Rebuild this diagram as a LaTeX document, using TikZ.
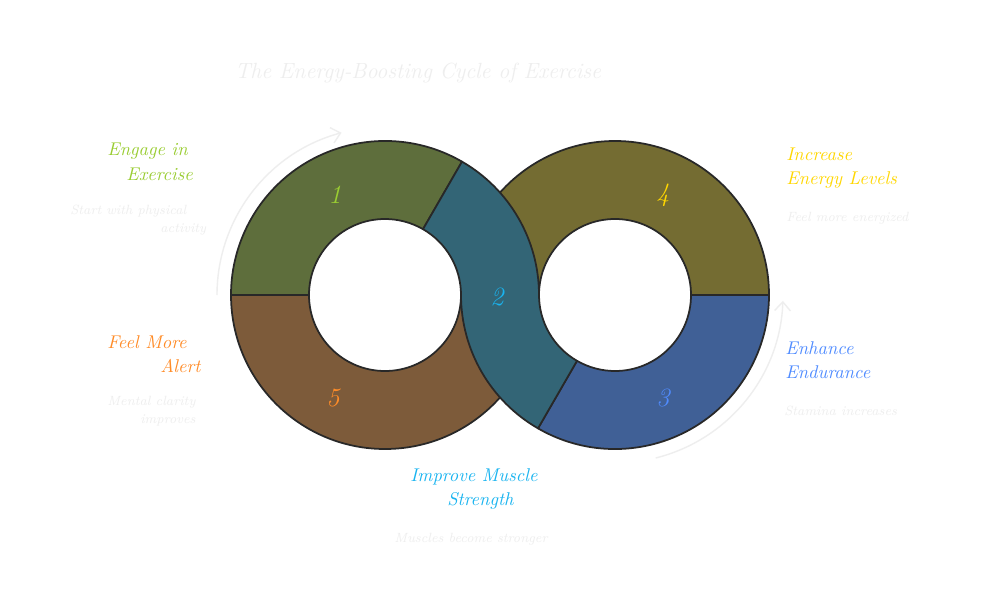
\documentclass[tikz,border=0pt]{standalone}
\usepackage{tikz}
\usetikzlibrary{arrows.meta,calc}
\definecolor{Edge}{RGB}{40, 40, 40}
\definecolor{Engage}{RGB}{94, 110, 60}
\definecolor{Muscle}{RGB}{51, 101, 118}
\definecolor{Endure}{RGB}{64, 96, 150}
\definecolor{Energy}{RGB}{116, 108, 50}
\definecolor{Alert}{RGB}{125, 91, 58}
\definecolor{EngageText}{RGB}{154, 205, 50}
\definecolor{MuscleText}{RGB}{25, 180, 240}
\definecolor{EndureText}{RGB}{80, 140, 255}
\definecolor{EnergyText}{RGB}{255, 215, 0}
\definecolor{AlertText}{RGB}{255, 140, 40}
\definecolor{Faint}{RGB}{238, 238, 238}

\begin{document}
\begin{tikzpicture}[x=0.02cm, y=0.02cm,
    segment/.style={draw=Edge, line width=1pt, line join=round},
    number/.style={font=\fontsize{15}{18}\selectfont\itshape},
    mainlabel/.style={font=\fontsize{10.5}{14}\selectfont\itshape, inner sep=0pt, align=left, anchor=west},
    sublabel/.style={font=\fontsize{7.6}{10.2}\selectfont\itshape, text=Faint, inner sep=0pt, align=left, anchor=west},
    hint/.style={draw=Faint, line width=0.8pt, -{Straight Barb[length=5pt, width=9pt]}}]
    %% Background
    \fill[white] (0,0) rectangle (1000,603);

    \coordinate (L) at (385,308);
    \coordinate (R) at (615,308);

    %% Left ring
    \filldraw[segment, fill=Engage]
    ($(L)+(60:154)$) arc[start angle=60, end angle=180, radius=154]
    -- ($(L)+(180:76)$) arc[start angle=180, end angle=60, radius=76] -- cycle;
    \filldraw[segment, fill=Alert]
    ($(L)+(180:154)$) arc[start angle=180, end angle=360, radius=154]
    -- ($(L)+(0:76)$) arc[start angle=360, end angle=180, radius=76] -- cycle;

    %% Right ring
    \filldraw[segment, fill=Energy]
    ($(R)+(0:154)$) arc[start angle=0, end angle=180, radius=154]
    -- ($(R)+(180:76)$) arc[start angle=180, end angle=0, radius=76] -- cycle;
    \filldraw[segment, fill=Endure]
    ($(R)+(240:154)$) arc[start angle=240, end angle=360, radius=154]
    -- ($(R)+(0:76)$) arc[start angle=360, end angle=240, radius=76] -- cycle;

    %% Crossing band
    \filldraw[segment, fill=Muscle]
    ($(L)+(60:154)$) arc[start angle=60, end angle=0, radius=154]
    arc[start angle=180, end angle=240, radius=76]
    -- ($(R)+(240:154)$) arc[start angle=240, end angle=180, radius=154]
    arc[start angle=0, end angle=60, radius=76] -- cycle;

    %% Numbers
    \node[number, text=EngageText] (n1) at (335,408) {1};
    \node[number, text=MuscleText] (n2) at (497,306) {2};
    \node[number, text=EndureText] (n3) at (663,205) {3};
    \node[number, text=EnergyText] (n4) at (663,408) {4};
    \node[number, text=AlertText] (n5) at (333,205) {5};

    %% Faint arrows
    \draw[hint] ($(L)+(180:168)$) arc[start angle=180, end angle=105, radius=168];
    \draw[hint] ($(R)+(-76:168)$) arc[start angle=-76, end angle=-2, radius=168];

    %% Title
    \node[font=\fontsize{12.5}{15}\selectfont\itshape, text=Faint] (title) at (418,530)
    {The Energy-Boosting Cycle of Exercise};

    %% Labels
    \node[mainlabel, text=EngageText] (engage) at (107,441)
    {Engage in\\\hspace*{0.38cm}Exercise};
    \node[sublabel] (engagesub) at (70,383)
    {Start with physical\\\hspace*{1.8cm}activity};

    \node[mainlabel, text=AlertText] (alert) at (107,249)
    {Feel More\\\hspace*{1.06cm}Alert};
    \node[sublabel] (alertsub) at (107,192)
    {Mental clarity\\\hspace*{0.66cm}improves};

    \node[mainlabel, text=MuscleText] (muscle) at (410,114)
    {Improve Muscle\\\hspace*{0.74cm}Strength};
    \node[sublabel, anchor=center] (musclesub) at (471,64) {Muscles become stronger};

    \node[mainlabel, text=EnergyText] (energy) at (786,435)
    {Increase\\Energy Levels};
    \node[sublabel] (energysub) at (786,385) {Feel more energized};

    \node[mainlabel, text=EndureText] (endure) at (785,243)
    {Enhance\\Endurance};
    \node[sublabel] (enduresub) at (784,192) {Stamina increases};
\end{tikzpicture}
\end{document}
